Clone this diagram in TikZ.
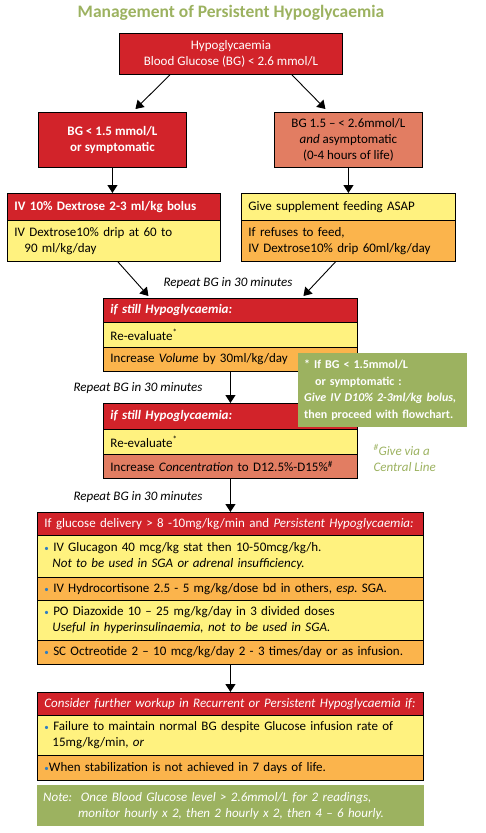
\documentclass[tikz,border=0pt]{standalone}
\usepackage{fontspec}
\setmainfont{Carlito}
\usepackage{xcolor}
\usetikzlibrary{arrows.meta, positioning, calc}
\definecolor{hypored}{HTML}{D2232A}
\definecolor{paleyel}{HTML}{FFF27F}
\definecolor{warmorg}{HTML}{FBB44C}
\definecolor{salmon}{HTML}{E27D62}
\definecolor{notegreen}{HTML}{9CB260}
\definecolor{bulblue}{HTML}{2F7EC1}
\newcommand{\bul}{{\color{bulblue}\small\textbullet}\ }
\newcommand{\cellfont}{\fontsize{13}{16}\selectfont}
\frenchspacing
\tikzset{
  cell/.style={rectangle, draw=black, line width=0.9pt, anchor=north west,
               inner xsep=7pt, inner ysep=1pt, align=left, font=\cellfont},
  redcell/.style={cell, fill=hypored, text=white},
  yelcell/.style={cell, fill=paleyel},
  orgcell/.style={cell, fill=warmorg},
  salcell/.style={cell, fill=salmon},
  notebox/.style={rectangle, fill=notegreen, text=white, anchor=north west,
                  inner xsep=6pt, align=left, font=\cellfont},
  arr/.style={-{Triangle[length=8pt, width=10pt]}, line width=1.3pt},
  thinarr/.style={-{Triangle[length=8pt, width=10pt]}, line width=0.9pt},
  repeat/.style={font=\cellfont\itshape},
}
\begin{document}
\begin{tikzpicture}[x=1pt, y=-1pt]
  \useasboundingbox (0,0) rectangle (485,833);
  \node[font=\fontsize{17.5}{19}\selectfont\bfseries, text=notegreen] (title) at (231,13)
    {Management of Persistent Hypoglycaemia};
  % first split
  \node[redcell, align=center, minimum width=223pt, minimum height=41pt] (hypo) at (119,33)
    {Hypoglycaemia\\Blood Glucose (BG) < 2.6 mmol/L};
  \node[redcell, align=center, font=\cellfont\bfseries,
        minimum width=148pt, minimum height=55pt] (bglow) at (38,112)
    {BG < 1.5 mmol/L\\or symptomatic};
  \node[salcell, align=center, minimum width=148pt, minimum height=55pt] (bgmid) at (274,112)
    {BG 1.5 -- < 2.6mmol/L\\\textit{and} asymptomatic\\(0-4 hours of life)};
  \node[redcell, font=\cellfont\bfseries, text width=199pt,
        minimum height=27pt] (bolus) at (7,193) {IV 10\% Dextrose 2-3 ml/kg bolus};
  \node[yelcell, text width=199pt, minimum height=41pt] (drip) at (7,220)
    {IV Dextrose10\% drip at 60 to\\\hspace*{10pt}90 ml/kg/day};
  \node[yelcell, text width=200pt, minimum height=27pt] (feed) at (241,193)
    {Give supplement feeding ASAP};
  \node[orgcell, text width=200pt, minimum height=41pt] (refuse) at (241,220)
    {If refuses to feed,\\IV Dextrose10\% drip 60ml/kg/day};
  % repeated checks
  \node[redcell, font=\cellfont\bfseries\itshape, text width=240pt,
        minimum height=24pt] (still1) at (103,298) {if still Hypoglycaemia:};
  \node[yelcell, text width=240pt, minimum height=25pt] (reeval1) at (103,322)
    {Re-evaluate\textsuperscript{*}};
  \node[orgcell, text width=240pt, minimum height=24pt] (vol) at (103,347)
    {Increase \textit{Volume} by 30ml/kg/day};
  \node[redcell, font=\cellfont\bfseries\itshape, text width=240pt,
        minimum height=26pt] (still2) at (103,403) {if still Hypoglycaemia:};
  \node[yelcell, text width=240pt, minimum height=25pt] (reeval2) at (103,429)
    {Re-evaluate\textsuperscript{*}};
  \node[salcell, text width=240pt, minimum height=24pt] (conc) at (103,454)
    {Increase \textit{Concentration} to D12.5\%-D15\%\textsuperscript{\#}};
  \node[notebox, font=\fontsize{12}{16.5}\selectfont\bfseries, text width=157pt,
        minimum height=74pt] (starnote) at (298,353)
    {* If BG < 1.5mmol/L\\\hspace*{11pt}or symptomatic :\\\textit{Give IV D10\% 2-3ml/kg bolus,}\\then proceed with flowchart.};
  \node[anchor=north west, align=left, text=notegreen,
        font=\cellfont\itshape] (central) at (370,441)
    {\textsuperscript{\#}Give via a\\Central Line};
  % drugs
  \node[redcell, text width=372pt, minimum height=23pt] (glu) at (37,512)
    {If glucose delivery > 8 -10mg/kg/min and \textit{Persistent Hypoglycaemia:}};
  \node[yelcell, text width=372pt, minimum height=42pt] (glucagon) at (37,535)
    {\bul IV Glucagon 40 mcg/kg stat then 10-50mcg/kg/h.\\\hspace*{8pt}\textit{Not to be used in SGA or adrenal insufficiency.}};
  \node[orgcell, text width=372pt, minimum height=23pt] (hydro) at (37,577)
    {\bul IV Hydrocortisone 2.5 - 5 mg/kg/dose bd in others, \textit{esp.} SGA.};
  \node[yelcell, text width=372pt, minimum height=40pt] (diaz) at (37,600)
    {\bul PO Diazoxide 10 -- 25 mg/kg/day in 3 divided doses\\\hspace*{8pt}\textit{Useful in hyperinsulinaemia, not to be used in SGA.}};
  \node[orgcell, text width=372pt, minimum height=24pt] (octr) at (37,640)
    {\bul SC Octreotide 2 -- 10 mcg/kg/day 2 - 3 times/day or as infusion.};
  % workup
  \node[redcell, font=\cellfont\itshape, text width=372pt,
        minimum height=23pt] (workup) at (37,692)
    {Consider further workup in Recurrent or Persistent Hypoglycaemia if:};
  \node[yelcell, text width=372pt, minimum height=40pt] (fail) at (37,715)
    {\bul Failure to maintain normal BG despite Glucose infusion rate of\\\hspace*{8pt}15mg/kg/min, \textit{or}};
  \node[orgcell, text width=372pt, minimum height=25pt] (stab) at (37,755)
    {{\color{bulblue}\small\textbullet}When stabilization is not achieved in 7 days of life.};
  \node[notebox, font=\cellfont\itshape, text width=375pt,
        minimum height=41pt] (note) at (37,785)
    {Note:\ \ Once Blood Glucose level > 2.6mmol/L for 2 readings,\\\hspace*{35pt}monitor hourly x 2, then 2 hourly x 2, then 4 -- 6 hourly.};
  % connectors
  \draw[thinarr] ([xshift=-61pt]hypo.south) -- ([xshift=23pt,yshift=3pt]bglow.north);
  \draw[thinarr] ([xshift=61pt]hypo.south) -- ([xshift=-23pt,yshift=3pt]bgmid.north);
  \draw[arr] (bglow.south) -- (bglow.south |- bolus.north);
  \draw[arr] (bgmid.south) -- (bgmid.south |- feed.north);
  \draw[thinarr] ([xshift=4pt]drip.south) -- ([xshift=-82pt,yshift=2pt]still1.north);
  \draw[thinarr] ([xshift=-13pt]refuse.south) -- ([xshift=73pt,yshift=2pt]still1.north);
  \draw[arr] (vol.south) -- (still2.north);
  \draw[arr] (conc.south) -- (conc.south |- glu.north);
  \draw[arr] (octr.south) -- (workup.north);
  \node[repeat] (rep1) at (228,283) {Repeat BG in 30 minutes};
  \node[repeat] (rep2) at (138,388) {Repeat BG in 30 minutes};
  \node[repeat] (rep3) at (138,497) {Repeat BG in 30 minutes};
\end{tikzpicture}
\end{document}
